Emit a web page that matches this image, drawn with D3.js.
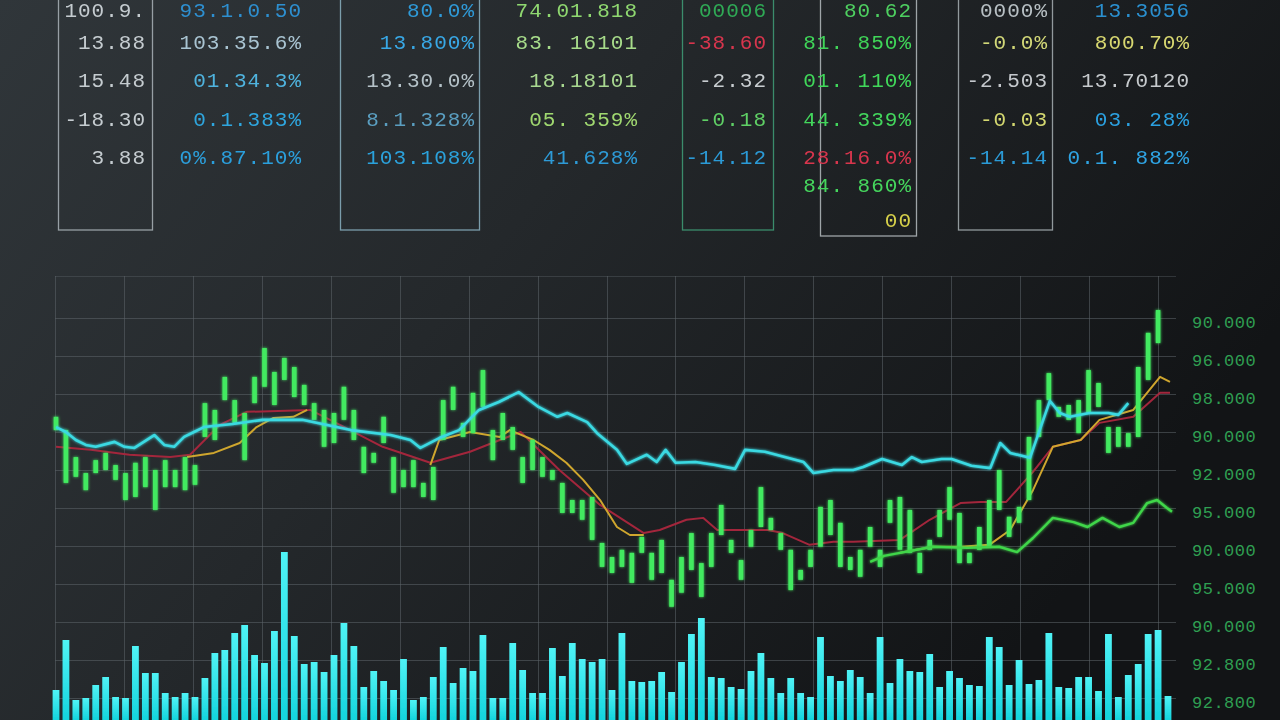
<!DOCTYPE html>
<html>
<head>
<meta charset="utf-8">
<script src="https://cdn.jsdelivr.net/npm/d3@7"></script>
<style>
  html, body { margin: 0; padding: 0; background: #1c1f22; overflow: hidden; }
  svg { display: block; }
</style>
</head>
<body>
<div id="chart"></div>
<script>

/* ---- price axis ---- */
var priceTicks = [88, 89, 90, 91, 92, 93, 94, 95, 96, 97, 98];
// labels as printed on the right, top to bottom
var priceLabels = ["90.000", "96.000", "98.000", "90.000", "92.000", "95.000",
                   "90.000", "95.000", "90.000", "92.800", "92.800"];

/* ---- candles (high / low of each body) ---- */
var highs = [95.40, 95.05, 94.34, 93.92, 94.26, 94.45, 94.13, 93.92, 94.19, 94.34,
             94.00, 94.26, 94.00, 94.34, 94.13, 95.76, 95.58, 96.45, 95.84, 95.50,
             96.45, 97.21, 96.58, 96.95, 96.71, 96.24, 95.76, 95.58, 95.50, 96.19,
             95.58, 94.61, 94.45, 95.40, 94.34, 94.00, 94.26, 93.66, 94.08, 95.84,
             96.19, 95.24, 96.03, 96.63, 95.05, 95.50, 95.13, 94.34, 94.79, 94.34,
             94.00, 93.66, 93.21, 93.21, 93.29, 92.08, 91.71, 91.90, 91.82, 92.24,
             91.82, 92.16, 91.11, 91.71, 92.34, 91.55, 92.34, 93.08, 92.16, 91.63,
             92.42, 93.55, 92.74, 92.34, 91.90, 91.37, 91.90, 93.03, 93.21, 92.61,
             91.71, 91.90, 92.50, 91.90, 93.21, 93.29, 92.95, 91.82, 92.16, 92.95,
             93.55, 92.87, 91.82, 92.50, 93.21, 94.00, 92.77, 93.03, 94.87, 95.84,
             96.55, 95.66, 95.71, 95.84, 96.63, 96.29, 95.13, 95.13, 94.97, 96.71,
             97.61, 98.21, null];
var lows  = [95.05, 93.66, 93.82, 93.47, 93.92, 94.00, 93.74, 93.21, 93.29, 93.55,
             92.95, 93.55, 93.55, 93.47, 93.61, 94.87, 94.79, 95.84, 95.24, 94.26,
             95.76, 96.19, 95.71, 96.37, 95.92, 95.71, 95.32, 94.61, 94.71, 95.32,
             94.79, 93.92, 94.19, 94.71, 93.40, 93.55, 93.55, 93.29, 93.21, 94.79,
             95.58, 94.87, 94.97, 95.66, 94.26, 94.79, 94.53, 93.66, 94.00, 93.82,
             93.74, 92.87, 92.87, 92.69, 92.16, 91.45, 91.29, 91.45, 91.03, 91.82,
             91.11, 91.29, 90.40, 90.77, 91.37, 90.66, 91.45, 92.29, 91.82, 91.11,
             91.98, 92.50, 92.42, 91.90, 90.84, 91.11, 91.45, 91.98, 92.29, 91.45,
             91.37, 91.19, 91.98, 91.45, 92.61, 91.90, 91.82, 91.29, 91.90, 92.24,
             92.69, 91.55, 91.55, 91.90, 91.98, 92.95, 92.24, 92.61, 93.21, 94.87,
             95.84, 95.40, 95.32, 94.97, 95.50, 95.66, 94.45, 94.61, 94.61, 94.87,
             96.37, 97.34, null];

/* ---- volume (thousands) ---- */
var volumes = [270, 770, 170, 190, 320, 400, 200, 190, 710, 440, 440, 240, 200, 240, 200, 390,
               640, 670, 840, 920, 620, 540, 860, 1650, 810, 530, 550, 450, 620, 940, 710, 300,
               460, 360, 270, 580, 170, 200, 400, 700, 340, 490, 460, 820, 190, 190, 740, 470,
               240, 240, 690, 410, 740, 580, 550, 580, 270, 840, 360, 350, 360, 450, 250, 550,
               830, 990, 400, 390, 300, 280, 460, 640, 390, 240, 390, 240, 200, 800, 410, 360,
               470, 400, 240, 800, 340, 580, 460, 450, 630, 300, 460, 390, 320, 310, 800, 700,
               320, 570, 330, 370, 840, 300, 290, 400, 400, 260, 830, 200, 420, 530, 830, 870,
               210];

/* ---- overlay lines: [candle index, price] ---- */
var cyanLine = [[0, 95.13], [1, 95.00], [2, 94.79], [3, 94.66], [4, 94.61], [5.9, 94.74], [6.9, 94.61],
                [7.9, 94.58], [9.9, 94.92], [10.9, 94.66], [11.9, 94.61], [12.9, 94.87], [13.9, 95.00],
                [14.9, 95.13], [17.8, 95.21], [20.8, 95.32], [24.8, 95.32], [29.7, 95.05], [33.7, 94.92],
                [35.7, 94.79], [36.7, 94.58], [38.6, 94.84], [40.6, 95.05], [42.6, 95.58], [44.6, 95.79],
                [46.6, 96.05], [48.6, 95.66], [50.5, 95.40], [51.5, 95.50], [53.5, 95.26], [54.5, 94.97],
                [56.5, 94.53], [57.5, 94.16], [59.5, 94.40], [60.5, 94.21], [61.4, 94.53], [62.4, 94.19],
                [64.4, 94.21], [66.4, 94.13], [68.4, 94.03], [69.4, 94.53], [71.4, 94.48], [75.3, 94.21],
                [76.3, 93.92], [78.3, 94.00], [80.3, 94.00], [81.3, 94.08], [83.2, 94.29], [85.2, 94.13],
                [86.2, 94.34], [87.2, 94.21], [89.2, 94.29], [90.2, 94.29], [92.2, 94.11], [94.1, 94.05],
                [95.1, 94.71], [96.1, 94.45], [98.1, 94.32], [100.1, 95.82], [101.1, 95.50], [102.1, 95.40],
                [104.1, 95.50], [106, 95.50], [107, 95.45], [108, 95.76]];

var goldLine = [[13.2, 94.34], [15.9, 94.45], [18.5, 94.71], [20.2, 95.13], [21.9, 95.37], [23.9, 95.40],
                [25.3, 95.58], [26, null],
                [37.7, 94.13], [38.6, 94.79], [41.7, 95.00], [44.7, 94.87], [45.7, 95.05], [48.1, 94.79],
                [49.7, 94.53], [51.4, 94.19], [53.1, 93.74], [54.8, 93.21], [56.5, 92.50], [57.8, 92.29],
                [59.2, 92.29], [60, null],
                [85, 91.82], [88.3, 91.98], [91.1, 91.98], [94, 92.03], [96.1, 92.42], [98.4, 93.47],
                [100.4, 94.61], [103.2, 94.79], [105.1, 95.32], [108.5, 95.58], [111.2, 96.45], [112.2, 96.32]];

var redLine = [[0, 94.61], [3.5, 94.53], [7.4, 94.40], [11.5, 94.34], [13.5, 94.40], [16.5, 95.19],
               [19.2, 95.53], [25.6, 95.58], [28.6, 95.19], [32.9, 94.61], [37.7, 94.19], [41.7, 94.48],
               [44.7, 94.79], [46.8, 95.00], [50.7, 94.00], [54.8, 93.08], [59.2, 92.34], [60.8, 92.42],
               [63.5, 92.69], [65.2, 92.74], [66.6, 92.42], [71.7, 92.42], [73.2, 92.34], [75.9, 92.03],
               [78.3, 92.11], [80.3, 92.11], [85, 92.16], [88, 92.69], [91.1, 93.13], [93.1, 93.16],
               [95.7, 93.16], [98.4, 93.95], [100.4, 94.61], [103.2, 94.79], [105.1, 95.24], [108.5, 95.40],
               [111.2, 96.03], [112.2, 96.03]];

var greenLine = [[82, 91.58], [83.4, 91.74], [85, 91.82], [88.3, 91.98], [91.8, 91.95], [95, 91.98],
                 [96.8, 91.84], [98.4, 92.21], [100.4, 92.74], [102.5, 92.63], [103.9, 92.50], [105.4, 92.74],
                 [107.1, 92.50], [108.5, 92.61], [109.9, 93.13], [110.9, 93.21], [111.9, 93.00], [112.4, 92.90]];

/* ---- quote table at the top ---- */
var tableCols = [
  ["100.9.", "13.88", "15.48", "-18.30", "3.88"],
  ["93.1.0.50", "103.35.6%", "01.34.3%", "0.1.383%", "0%.87.10%"],
  ["80.0%", "13.800%", "13.30.0%", "8.1.328%", "103.108%"],
  ["74.01.818", "83. 16101", "18.18101", "05. 359%", "41.628%"],
  ["00006", "-38.60", "-2.32", "-0.18", "-14.12"],
  ["80.62", "81. 850%", "01. 110%", "44. 339%", "28.16.0%", "84. 860%", "00"],
  ["0000%", "-0.0%", "-2.503", "-0.03", "-14.14"],
  ["13.3056", "800.70%", "13.70120", "03. 28%", "0.1. 882%"]
];
var tableColors = [
  ["#c5ccd0", "#c5ccd0", "#c5ccd0", "#c5ccd0", "#c5ccd0"],
  ["#2d8fd0", "#a9c4d2", "#4fb3de", "#2ea6df", "#2b9fdc"],
  ["#2f9ad8", "#38a8e6", "#b5c2c8", "#5a9ec0", "#2ba2dc"],
  ["#8fd870", "#a7dc8a", "#a8d890", "#a0d870", "#2d9ad6"],
  ["#2faa55", "#d8354d", "#c8cdd0", "#5fd065", "#2b9ad6"],
  ["#4ed060", "#3fd558", "#40d85a", "#43d65c", "#d8354d", "#45d65d", "#d6d04a"],
  ["#b8c0c4", "#d2d878", "#c4c8cc", "#d4d870", "#2b9ad6"],
  ["#2a90d0", "#d8d870", "#c6cacd", "#2ba0e0", "#2fa4e4"]
];

var width = 1280,
    height = 720;

var svg = d3.select("#chart")
            .append("svg")
            .attr("width", width)
            .attr("height", height);

var defs = svg.append("defs");

var bg = defs.append("linearGradient")
             .attr("id", "bg")
             .attr("x1", 0).attr("y1", 0)
             .attr("x2", 1).attr("y2", 0.45);
bg.append("stop").attr("offset", "0%").attr("stop-color", "#30363a");
bg.append("stop").attr("offset", "45%").attr("stop-color", "#24282b");
bg.append("stop").attr("offset", "100%").attr("stop-color", "#121416");

var volGrad = defs.append("linearGradient")
                  .attr("id", "volGrad")
                  .attr("x1", 0).attr("y1", 0)
                  .attr("x2", 0).attr("y2", 1);
volGrad.append("stop").attr("offset", "0%").attr("stop-color", "#4ff3f6");
volGrad.append("stop").attr("offset", "100%").attr("stop-color", "#14d4dd");

var glow = defs.append("filter")
               .attr("id", "glow")
               .attr("x", "-50%").attr("y", "-50%")
               .attr("width", "200%").attr("height", "200%");
glow.append("feGaussianBlur").attr("stdDeviation", 1.6).attr("result", "blur");
var merge = glow.append("feMerge");
merge.append("feMergeNode").attr("in", "blur");
merge.append("feMergeNode").attr("in", "SourceGraphic");

var soft = defs.append("filter").attr("id", "soft");
soft.append("feGaussianBlur").attr("stdDeviation", 0.45);

svg.append("rect")
   .attr("width", width)
   .attr("height", height)
   .attr("fill", "url(#bg)");

/* scales */
var x = d3.scaleLinear()
          .domain([0, volumes.length - 1])
          .range([56, 1168]);

var y = d3.scaleLinear()
          .domain([88, 98])
          .range([698, 318]);

var yVol = d3.scaleLinear()
             .domain([0, 1700])
             .range([717, 547]);

var gridX = d3.scaleLinear().domain([0, 16]).range([55, 1158]);

/* grid */
var grid = svg.append("g")
              .attr("stroke", "#5c6469")
              .attr("stroke-opacity", 0.55)
              .attr("stroke-width", 1);

grid.selectAll("line.h")
    .data(priceTicks)
    .enter().append("line")
    .attr("class", "h")
    .attr("x1", 55).attr("x2", 1176)
    .attr("y1", function(d) { return Math.round(y(d)) + 0.5; })
    .attr("y2", function(d) { return Math.round(y(d)) + 0.5; });

grid.append("line")
    .attr("x1", 55).attr("x2", 1176)
    .attr("y1", 276.5).attr("y2", 276.5)
    .attr("stroke-opacity", 0.4);

grid.selectAll("line.v")
    .data(d3.range(17))
    .enter().append("line")
    .attr("class", "v")
    .attr("x1", function(d) { return Math.round(gridX(d)) + 0.5; })
    .attr("x2", function(d) { return Math.round(gridX(d)) + 0.5; })
    .attr("y1", 276)
    .attr("y2", height);

/* volume bars */
svg.append("g")
   .attr("filter", "url(#soft)")
   .selectAll("rect")
   .data(volumes)
   .enter().append("rect")
   .attr("x", function(d, i) { return x(i) - 3.4; })
   .attr("width", 6.8)
   .attr("y", function(d) { return yVol(d); })
   .attr("height", function(d) { return height - yVol(d); })
   .attr("fill", "url(#volGrad)");

/* moving averages behind candles */
var line = d3.line()
             .defined(function(d) { return d[1] !== null; })
             .x(function(d) { return x(d[0]); })
             .y(function(d) { return y(d[1]); });

svg.append("path")
   .datum(redLine)
   .attr("d", line)
   .attr("fill", "none")
   .attr("stroke", "#a3263c")
   .attr("stroke-width", 2)
   .attr("stroke-linejoin", "round");

svg.append("path")
   .datum(goldLine)
   .attr("d", line)
   .attr("fill", "none")
   .attr("stroke", "#cfa62e")
   .attr("stroke-width", 2)
   .attr("stroke-linejoin", "round");

/* candles */
var candles = highs.map(function(h, i) { return {i: i, high: h, low: lows[i]}; })
                   .filter(function(d) { return d.high !== null; });

svg.append("g")
   .attr("filter", "url(#glow)")
   .selectAll("rect")
   .data(candles)
   .enter().append("rect")
   .attr("x", function(d) { return x(d.i) - 2.3; })
   .attr("width", 4.6)
   .attr("y", function(d) { return y(d.high); })
   .attr("height", function(d) { return Math.max(3, y(d.low) - y(d.high)); })
   .attr("fill", "#42ea60");

svg.append("path")
   .datum(cyanLine)
   .attr("d", line)
   .attr("fill", "none")
   .attr("stroke", "#3ad9e2")
   .attr("stroke-width", 2.6)
   .attr("stroke-linejoin", "round")
   .attr("filter", "url(#glow)");

svg.append("path")
   .datum(greenLine)
   .attr("d", line)
   .attr("fill", "none")
   .attr("stroke", "#3fd64a")
   .attr("stroke-width", 2.4)
   .attr("stroke-linejoin", "round")
   .attr("filter", "url(#glow)");

/* right price axis */
var axis = svg.append("g")
              .attr("transform", "translate(1188,0)")
              .call(d3.axisRight(y)
                      .tickValues(priceTicks)
                      .tickSize(0)
                      .tickPadding(4)
                      .tickFormat(function(d, i) { return priceLabels[priceTicks.length - 1 - i]; }));

axis.select(".domain").remove();
axis.selectAll("text")
    .attr("y", 4)
    .attr("fill", "#2f9f52")
    .style("font-family", "'Liberation Mono', 'DejaVu Sans Mono', monospace")
    .style("font-size", "17px")
    .style("letter-spacing", "0.5px");

/* quote table */
var boxes = [[58, 152, 230, "#aab3b8"], [340, 479, 230, "#8bb1c2"], [682, 773, 230, "#3f9f78"],
             [820, 916, 236, "#b5bcc0"], [958, 1052, 230, "#a7afb3"]];

svg.append("g")
   .selectAll("rect")
   .data(boxes)
   .enter().append("rect")
   .attr("x", function(d) { return d[0] + 0.5; })
   .attr("y", -4)
   .attr("width", function(d) { return d[1] - d[0]; })
   .attr("height", function(d) { return d[2] + 4; })
   .attr("fill", "none")
   .attr("stroke", function(d) { return d[3]; })
   .attr("stroke-opacity", 0.85)
   .attr("stroke-width", 1.3);

var colRight = [146, 302, 475, 638, 767, 912, 1048, 1190];
var rowBase = [17, 49, 87, 126, 164, 192, 227];

var table = svg.append("g")
               .attr("filter", "url(#soft)")
               .style("font-family", "'Liberation Mono', 'DejaVu Sans Mono', monospace")
               .style("font-size", "21px")
               .style("letter-spacing", "1px")
               .attr("text-anchor", "end");

tableCols.forEach(function(col, c) {
    table.selectAll("text.c" + c)
         .data(col)
         .enter().append("text")
         .attr("class", "c" + c)
         .attr("x", colRight[c])
         .attr("y", function(d, r) { return rowBase[r]; })
         .attr("fill", function(d, r) { return tableColors[c][r]; })
         .text(function(d) { return d; });
});

</script>
</body>
</html>
